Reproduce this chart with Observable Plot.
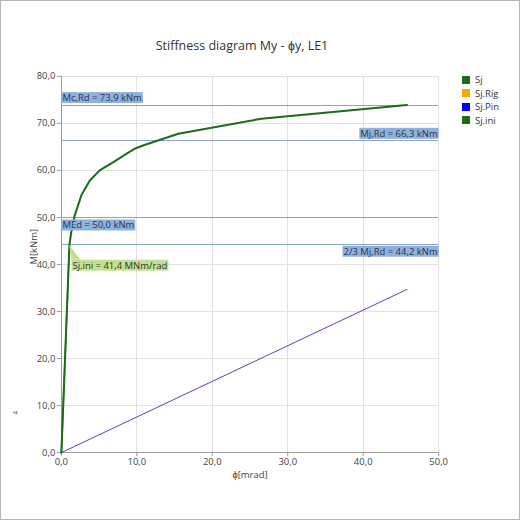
<!DOCTYPE html>
<html>
<head>
<meta charset="utf-8">
<script src="https://cdn.jsdelivr.net/npm/d3@7"></script>
<script src="https://cdn.jsdelivr.net/npm/@observablehq/plot@0.6"></script>
<style>
  html, body { margin: 0; padding: 0; background: #fff; }
  #wrap { position: relative; width: 520px; height: 520px; box-sizing: border-box; border: 1px solid #b4b4b4; overflow: hidden; font-family: "Open Sans", sans-serif; }
  #title { position: absolute; left: 0; top: 36px; width: 482px; text-align: center; font-size: 12.5px; color: #333; }
  #legend { position: absolute; left: 461px; top: 72px; font-size: 9.5px; color: #333; }
  #legend .item { display: flex; align-items: center; height: 13.5px; }
  #legend .sw { width: 8px; height: 8px; margin-right: 5px; }
  #chart { position: absolute; left: -1px; top: -1px; }
</style>
</head>
<body>
<div id="wrap">
  <div id="chart"></div>
  <div id="title">Stiffness diagram My - ϕy, LE1</div>
  <div id="legend"></div>
</div>
<script>
// ---- data ----
const sjPhi = [0, 1.07, 1.3, 1.76, 2.65, 3.75, 5.07, 6.84, 8.6, 9.7, 11.0, 15.5, 26.5, 45.8];
const sjM   = [0, 44.2, 46.8, 50.4, 54.7, 57.8, 60.0, 61.7, 63.5, 64.6, 65.4, 67.8, 71.0, 73.9];
const iniPhi = [0, 1.07];
const iniM   = [0, 44.2];
const pinPhi = [0, 45.8];
const pinM   = [0, 34.7];

const refValues = [73.9, 66.3, 50.0, 44.2];
const refLabels = ["Mc,Rd = 73,9 kNm", "Mj,Rd = 66,3 kNm", "MEd = 50,0 kNm", "2/3 Mj,Rd = 44,2 kNm"];
const refSide   = ["left", "right", "left", "right"];
const refAbove  = [true, true, false, false];

const iniLabel = "Sj.ini = 41,4 MNm/rad";
const iniAnchorPhi = 1.07, iniAnchorM = 44.2;

const xTicks = [0, 10, 20, 30, 40, 50];
const yTicks = [0, 10, 20, 30, 40, 50, 60, 70, 80];

const legendNames  = ["Sj", "Sj.Rig", "Sj.Pin", "Sj.ini"];
const legendColors = ["#1b6b1b", "#ffa500", "#0000ff", "#1b6b1b"];

// ---- build ----
const fmt = d => d.toFixed(1).replace(".", ",");
const sj  = sjPhi.map((p, i) => ({phi: p, m: sjM[i]}));
const ini = iniPhi.map((p, i) => ({phi: p, m: iniM[i]}));
const pin = pinPhi.map((p, i) => ({phi: p, m: pinM[i]}));
const refs = refValues.map((v, i) => ({v, label: refLabels[i], side: refSide[i], above: refAbove[i]}));

const chart = Plot.plot({
  width: 520, height: 520,
  marginLeft: 61, marginRight: 81, marginTop: 76, marginBottom: 67,
  style: {fontFamily: "Open Sans, sans-serif", fontSize: "9.5px", color: "#444", background: "transparent"},
  x: {domain: [0, 50]},
  y: {domain: [0, 80]},
  marks: [
    Plot.gridX(xTicks, {stroke: "#e2e2e2", strokeOpacity: 1, shapeRendering: "crispEdges"}),
    Plot.gridY(yTicks.filter(t => !refValues.includes(t)), {stroke: "#e2e2e2", strokeOpacity: 1, shapeRendering: "crispEdges"}),
    Plot.ruleY(refs, {y: "v", stroke: "#86a6cc", strokeWidth: 1, shapeRendering: "crispEdges"}),
    Plot.ruleX([0], {stroke: "#9a9a9a", shapeRendering: "crispEdges"}),
    Plot.ruleY([0], {stroke: "#9a9a9a", shapeRendering: "crispEdges"}),
    Plot.axisX(xTicks, {tickFormat: fmt, tickSize: 4, tickPadding: 2, label: null, stroke: "#9a9a9a"}),
    Plot.axisY(yTicks, {tickFormat: fmt, tickSize: 4, tickPadding: 2, label: null, stroke: "#9a9a9a"}),
    Plot.line(pin, {x: "phi", y: "m", stroke: "#4a43d9", strokeWidth: 1}),
    Plot.line(ini, {x: "phi", y: "m", stroke: "#43a02c", strokeWidth: 1.5}),
    Plot.line(sj, {x: "phi", y: "m", stroke: "#1b6b1b", strokeWidth: 2}),
    Plot.text(refs.filter(d => d.side === "left" && d.above), {x: 0, y: "v", text: "label", textAnchor: "start", dx: 1, dy: -7, fill: "#2a3450"}),
    Plot.text(refs.filter(d => d.side === "right" && d.above), {x: 50, y: "v", text: "label", textAnchor: "end", dx: -1, dy: -7, fill: "#2a3450"}),
    Plot.text(refs.filter(d => d.side === "left" && !d.above), {x: 0, y: "v", text: "label", textAnchor: "start", dx: 1, dy: 8, fill: "#2a3450"}),
    Plot.text(refs.filter(d => d.side === "right" && !d.above), {x: 50, y: "v", text: "label", textAnchor: "end", dx: -1, dy: 7, fill: "#2a3450"}),
    Plot.text([{phi: iniAnchorPhi, m: iniAnchorM, t: iniLabel}], {x: "phi", y: "m", text: "t", textAnchor: "start", dx: 3, dy: 21, fill: "#2a3450"}),
    Plot.text(["M[kNm]"], {frameAnchor: "left", rotate: -90, dx: -27, dy: 0, fill: "#444"}),
    Plot.text(["ϕ[mrad]"], {frameAnchor: "bottom", dy: 25, fill: "#444"}),
    Plot.text(["4"], {frameAnchor: "bottom-left", rotate: -90, dx: -43, dy: -38, fontSize: 7, fill: "#555"})
  ]
});
document.getElementById("chart").append(chart);

// label backgrounds (measured from the rendered text)
const svg = chart.tagName.toLowerCase() === "svg" ? chart : chart.querySelector("svg");
const ns = "http://www.w3.org/2000/svg";
const px = chart.scale("x").apply(iniAnchorPhi), py = chart.scale("y").apply(iniAnchorM);
Array.from(svg.querySelectorAll("text")).forEach(t => {
  const s = t.textContent;
  const isRef = refLabels.includes(s), isIni = s === iniLabel;
  if (!isRef && !isIni) return;
  const fill = isIni ? "#c6df8a" : "#8fb2dc";
  const b = t.getBBox();
  const tf = t.getAttribute("transform");
  const x0 = b.x - 1, y0 = b.y + 1, w = b.width + 2, h = b.height - 2;
  const rect = document.createElementNS(ns, "rect");
  rect.setAttribute("x", x0); rect.setAttribute("y", y0);
  rect.setAttribute("width", w); rect.setAttribute("height", h);
  rect.setAttribute("fill", fill);
  rect.setAttribute("stroke", "none");
  if (tf) rect.setAttribute("transform", tf);
  t.parentNode.insertBefore(rect, t);
  if (isIni) {
    const m = t.getCTM().inverse();
    const p = svg.createSVGPoint(); p.x = px; p.y = py;
    const lp = p.matrixTransform(m);
    const poly = document.createElementNS(ns, "polygon");
    poly.setAttribute("points", `${lp.x},${lp.y} ${x0},${y0} ${x0 + 9},${y0}`);
    poly.setAttribute("fill", fill);
    poly.setAttribute("stroke", "none");
    if (tf) poly.setAttribute("transform", tf);
    t.parentNode.insertBefore(poly, t);
  }
});

// legend
const lg = document.getElementById("legend");
legendNames.forEach((n, i) => {
  const it = document.createElement("div"); it.className = "item";
  const sw = document.createElement("div"); sw.className = "sw"; sw.style.background = legendColors[i];
  const tx = document.createElement("span"); tx.textContent = n;
  it.append(sw, tx); lg.append(it);
});
</script>
</body>
</html>
